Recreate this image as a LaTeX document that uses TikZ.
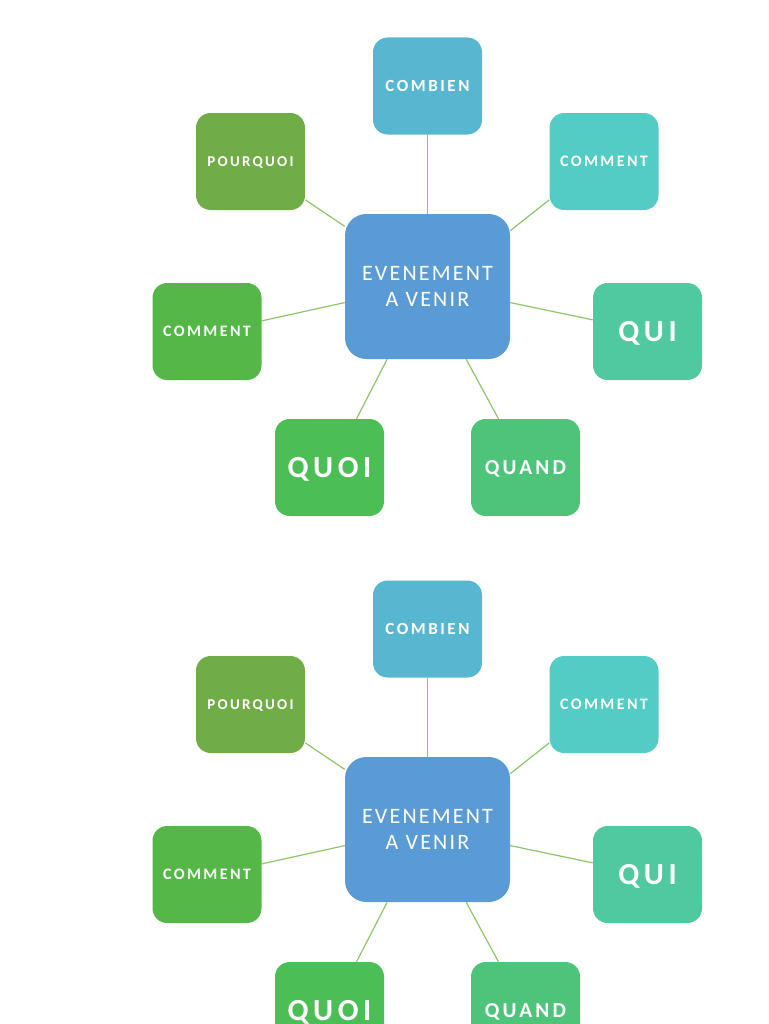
\documentclass[tikz,border=0pt]{standalone}
\usepackage{fontspec}
\setmainfont{Carlito}
\newfontfamily\satf[LetterSpace=15]{Carlito}
\newfontfamily\hubf[LetterSpace=10]{Carlito}
\definecolor{hubc}{RGB}{91,155,213}
\definecolor{combc}{RGB}{87,182,208}
\definecolor{comtrc}{RGB}{82,204,196}
\definecolor{pourc}{RGB}{113,173,71}
\definecolor{comlc}{RGB}{84,183,71}
\definecolor{quic}{RGB}{80,200,160}
\definecolor{quoic}{RGB}{76,190,86}
\definecolor{quandc}{RGB}{78,196,122}
\definecolor{linkc}{RGB}{140,198,105}
\begin{document}
\begin{tikzpicture}[x=0.75pt,y=-0.75pt,
  sat/.style={rounded corners=11pt, minimum width=81.75pt, minimum height=72.75pt,
    inner sep=0pt, text=white, text depth=0pt},
  hub/.style={rounded corners=16pt, minimum width=123.75pt, minimum height=108.75pt,
    inner sep=0pt, fill=hubc, text=white, align=center,
    font={\hubf\fontsize{16.5}{19.5}\selectfont}},
  link/.style={draw=linkc, line width=0.9pt},
  fsmall/.style={font={\satf\bfseries\fontsize{11.25}{13}\selectfont}},
  fmid/.style={font={\satf\bfseries\fontsize{12}{14}\selectfont}},
  fcomb/.style={font={\satf\bfseries\fontsize{12.75}{14}\selectfont}},
  fquand/.style={font={\satf\bfseries\fontsize{16}{18}\selectfont}},
  fbig/.style={font={\satf\bfseries\fontsize{23}{25}\selectfont}}]
\useasboundingbox (0,0) rectangle (768,1024);
\clip (0,0) rectangle (768,1024);
\foreach \dy/\p in {0/a,543/b}{
\begin{scope}[shift={(0,\dy)}]
  \node[hub] (\p-hub) at (427.5,286.5) {EVENEMENT\\A VENIR};
  \node[sat, fill=combc, fcomb] (\p-comb) at (427.5,86) {COMBIEN};
  \node[sat, fill=comtrc, fmid] (\p-comtr) at (604,161.5) {COMMENT};
  \node[sat, fill=pourc, fsmall] (\p-pour) at (250.5,161.5) {POURQUOI};
  \node[sat, fill=comlc, fmid] (\p-coml) at (207,331.5) {COMMENT};
  \node[sat, fill=quic, fbig] (\p-qui) at (647.5,331.5) {QUI};
  \node[sat, fill=quoic, fbig] (\p-quoi) at (329.5,467.5) {QUOI};
  \node[sat, fill=quandc, fquand] (\p-quand) at (525.5,467.5) {QUAND};
  \draw[link] (\p-hub.north) -- (\p-comb.south);
  \draw[link] (\p-hub.144.66) -- (\p-pour.-35.4);
  \draw[link] (\p-hub.34.6) -- (\p-comtr.215);
  \draw[link] (\p-hub.191.3) -- (\p-coml.11.6);
  \draw[link] (\p-hub.-11.3) -- (\p-qui.168);
  \draw[link] (\p-hub.241.7) -- (\p-quoi.61);
  \draw[link] (\p-hub.298.9) -- (\p-quand.119);
\end{scope}
}
\end{tikzpicture}
\end{document}
